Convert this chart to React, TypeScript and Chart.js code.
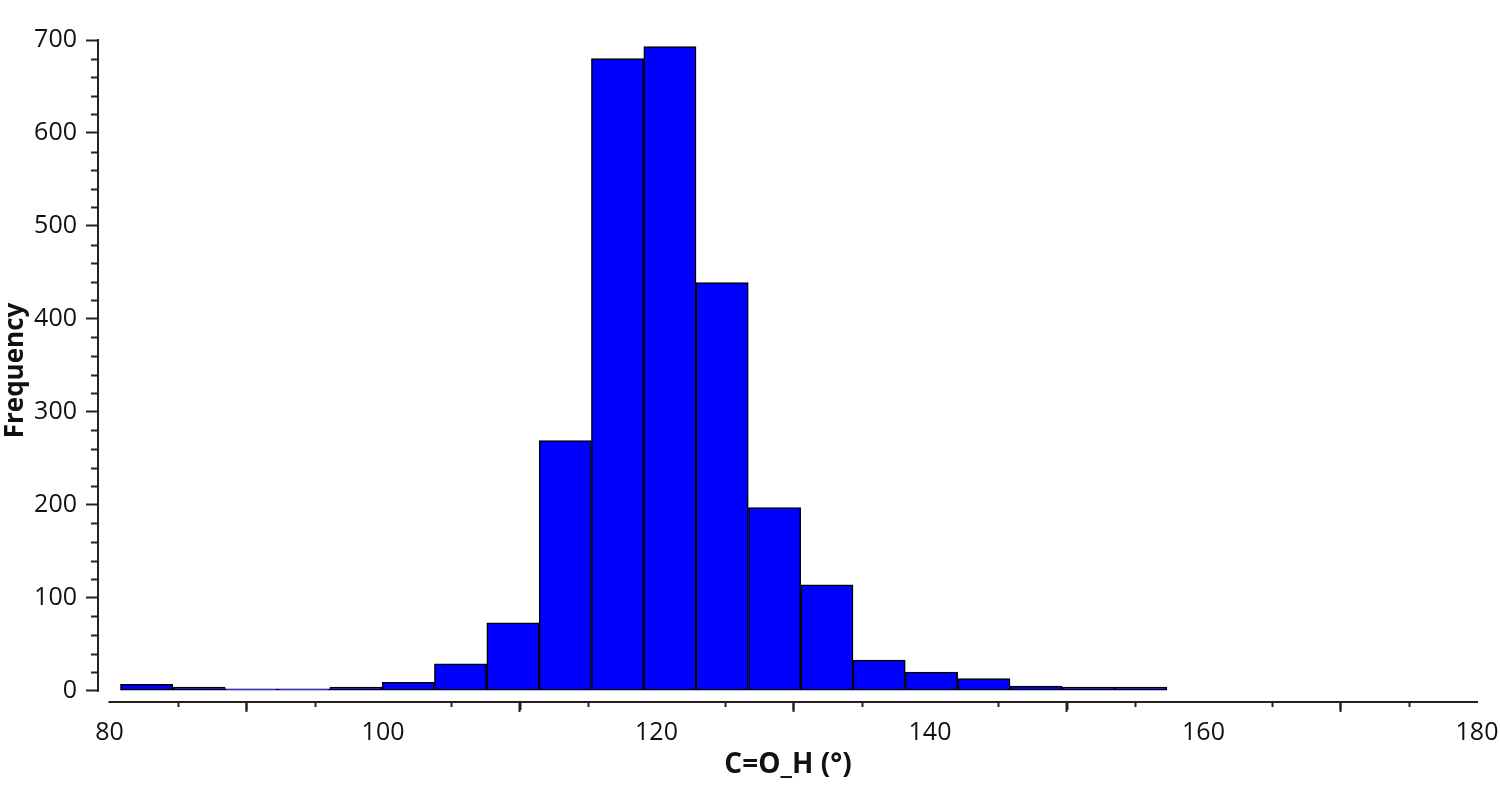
import React, { useEffect, useRef } from "react";
import { Chart, registerables } from "chart.js";

Chart.register(...registerables);

// Histogram bins (bin centres, degrees) and their counts
const binCenters = [
  82.71, 86.54, 90.37, 94.19, 98.02, 101.85, 105.67, 109.5, 113.33, 117.15,
  120.98, 124.8, 128.63, 132.46, 136.28, 140.11, 143.94, 147.76, 151.59, 155.41,
];
const frequencies = [
  7, 4, 2, 2, 4, 9, 29, 73, 269, 680, 693, 439, 197, 114, 33, 20, 13, 5, 4, 4,
];

const xMajorTicks = [80, 100, 120, 140, 160, 180];
const yMajorTicks = [0, 100, 200, 300, 400, 500, 600, 700];

const X_MIN = 79.23;
const X_MAX = 180;
const Y_MIN = -11;
const Y_MAX = 700;

const AXIS_COLOR = "#222222";

const axisDecor = {
  id: "axisDecor",
  afterDraw(chart: any) {
    const { ctx, chartArea, scales } = chart;
    const x = scales.x;
    const y = scales.y;
    ctx.save();
    ctx.strokeStyle = AXIS_COLOR;
    ctx.lineWidth = 2;
    ctx.lineCap = "butt";
    // detached axis lines
    const yAxisX = chartArea.left - 1;
    ctx.beginPath();
    ctx.moveTo(yAxisX, y.getPixelForValue(0) + 1);
    ctx.lineTo(yAxisX, y.getPixelForValue(700) - 1);
    ctx.stroke();
    const xAxisY = chartArea.bottom + 1;
    ctx.beginPath();
    ctx.moveTo(x.getPixelForValue(80) - 1, xAxisY);
    ctx.lineTo(x.getPixelForValue(180) + 1, xAxisY);
    ctx.stroke();
    // y minor ticks (every 20)
    for (let v = 20; v < 700; v += 20) {
      if (v % 100 === 0) continue;
      const py = Math.round(y.getPixelForValue(v)) + 0.5;
      ctx.beginPath();
      ctx.moveTo(yAxisX - 7, py);
      ctx.lineTo(yAxisX, py);
      ctx.stroke();
    }
    // x minor ticks (every 5, longer every 10)
    for (let v = 85; v < 180; v += 5) {
      if (v % 20 === 0) continue;
      const len = v % 10 === 0 ? 8 : 5;
      const px = Math.round(x.getPixelForValue(v)) + 0.5;
      ctx.beginPath();
      ctx.moveTo(px, xAxisY);
      ctx.lineTo(px, xAxisY + len);
      ctx.stroke();
    }
    ctx.restore();
  },
};

export default function App() {
  const canvasRef = useRef<HTMLCanvasElement | null>(null);

  useEffect(() => {
    if (!canvasRef.current) return;
    const chart = new Chart(canvasRef.current, {
      type: "bar",
      data: {
        datasets: [
          {
            label: "Frequency",
            data: binCenters.map((c, i) => ({ x: c, y: frequencies[i] })),
            backgroundColor: "#0000FF",
            borderColor: "#000000",
            borderWidth: 1.5,
            borderSkipped: false,
            barPercentage: 1,
            categoryPercentage: 1,
          },
        ],
      },
      options: {
        animation: false,
        responsive: false,
        devicePixelRatio: 1,
        layout: { padding: { top: 40, right: 23, left: 0, bottom: 0 } },
        plugins: {
          legend: { display: false },
          tooltip: { enabled: false },
          title: { display: false },
        },
        scales: {
          x: {
            type: "linear",
            min: X_MIN,
            max: X_MAX,
            offset: false,
            afterBuildTicks: (scale: any) => {
              scale.ticks = xMajorTicks.map((v) => ({ value: v }));
            },
            afterFit: (scale: any) => {
              scale.height = 89;
              scale.paddingLeft = 0;
              scale.paddingRight = 0;
            },
            border: { display: false },
            grid: {
              drawOnChartArea: false,
              drawTicks: true,
              tickLength: 11,
              tickColor: AXIS_COLOR,
              tickWidth: 2,
            },
            ticks: {
              color: "#111111",
              padding: 6,
              maxRotation: 0,
              autoSkip: false,
              font: { family: "Open Sans", size: 25 },
            },
            title: {
              display: true,
              text: "C=O_H (°)",
              color: "#111111",
              font: { family: "Open Sans", size: 28, weight: "bold" },
              padding: { top: 0, bottom: 8 },
            },
          },
          y: {
            type: "linear",
            min: Y_MIN,
            max: Y_MAX,
            afterBuildTicks: (scale: any) => {
              scale.ticks = yMajorTicks.map((v) => ({ value: v }));
            },
            afterFit: (scale: any) => {
              scale.width = 99;
              scale.paddingTop = 0;
              scale.paddingBottom = 0;
            },
            border: { display: false },
            grid: {
              drawOnChartArea: false,
              drawTicks: true,
              tickLength: 13,
              tickColor: AXIS_COLOR,
              tickWidth: 2,
            },
            ticks: {
              color: "#111111",
              padding: 9,
              autoSkip: false,
              font: { family: "Open Sans", size: 25 },
            },
            title: {
              display: true,
              text: "Frequency",
              color: "#111111",
              font: { family: "Open Sans", size: 26, weight: "bold" },
              padding: { top: 0, bottom: 0 },
            },
          },
        },
      },
      plugins: [axisDecor],
    });
    return () => chart.destroy();
  }, []);

  return (
    <div
      style={{
        position: "fixed",
        left: 0,
        top: 0,
        width: 1500,
        height: 790,
        background: "#ffffff",
      }}
    >
      <canvas ref={canvasRef} width={1500} height={790} />
    </div>
  );
}
